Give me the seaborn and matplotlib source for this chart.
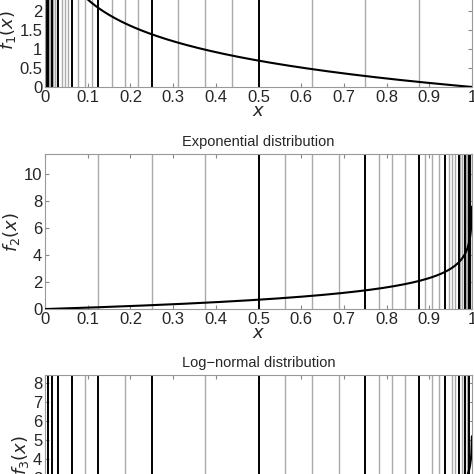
import numpy as np
import math
import matplotlib
matplotlib.use("Agg")
import matplotlib.pyplot as plt
import seaborn as sns

sns.set_style("ticks")
plt.rcParams['font.family'] = ['Liberation Sans', 'DejaVu Sans']

# vertical grid positions
p1_thick = [1/2**k for k in range(1, 9)]
p1_thin = [a*f for a in [1/2**k for k in range(1, 9)] for f in (1.25, 1.5, 1.75)]
p2_thick = [1 - v for v in p1_thick]
p2_thin = [1 - v for v in p1_thin]
p3_thick = [0.5, 0.25, 0.125, 0.0625, 0.03125, 0.015625, 0.0078125, 0.75, 0.875, 0.9375, 0.96875, 0.984375, 0.9921875]
p3_thin = [0.1875, 0.375, 0.09375, 0.5625, 0.625, 0.6875, 0.78125, 0.8125, 0.84375, 0.90625, 0.921875,
           0.953125, 0.9609375, 0.9765625, 0.98046875, 0.98828125]

x_curve = np.linspace(0.0005, 0.9995, 800)
f1 = -np.log(x_curve)
f2 = -np.log(1 - x_curve)

def ndtri(p):
    lo, hi = -10.0, 10.0
    for _ in range(60):
        m = (lo + hi) / 2
        if 0.5 * (1 + math.erf(m / math.sqrt(2))) < p:
            lo = m
        else:
            hi = m
    return (lo + hi) / 2
f3 = np.exp(0.5 * np.array([ndtri(p) for p in x_curve]))

titles = [None, "Exponential distribution", "Log\u2212normal distribution"]
ylabels = ["$f_1(x)$", "$f_2(x)$", "$f_3(x)$"]
ylims = [(0, 3), (0, 11.5), (0, 8.4)]
yticks = [[0, 0.5, 1, 1.5, 2, 2.5, 3], [0, 2, 4, 6, 8, 10], list(range(0, 9))]
ytl = [["0", "0.5", "1", "1.5", "2", "2.5", "3"], None, None]
curves = [f1, f2, f3]
thick = [p1_thick, p2_thick, p3_thick]
thin = [p1_thin, p2_thin, p3_thin]
rects = [[0.095, 0.8165, 0.901, 0.2405], [0.095, 0.348, 0.901, 0.327], [0.095, -0.1287, 0.901, 0.3376]]

fig = plt.figure(figsize=(4.74, 4.74), dpi=100)
for i in range(3):
    ax = fig.add_axes(rects[i])
    for v in thin[i]:
        ax.axvline(v, color="#aaaaaa", lw=1.0, zorder=1)
    for v in thick[i]:
        ax.axvline(v, color="black", lw=1.4, zorder=2)
    sns.lineplot(x=x_curve, y=curves[i], ax=ax, color="black", lw=1.5, zorder=3)
    ax.set_xlim(0, 1)
    ax.set_ylim(*ylims[i])
    ax.set_xticks(np.round(np.arange(0, 1.01, 0.1), 1))
    ax.set_xticklabels(["0"] + [f"{v:.1f}" for v in np.arange(0.1, 0.95, 0.1)] + ["1"])
    ax.set_yticks(yticks[i])
    if ytl[i]:
        ax.set_yticklabels(ytl[i])
    ax.tick_params(direction="in", length=3, labelsize=12, color="#888888", pad=2, top=True, right=True)
    for s in ax.spines.values():
        s.set_color("#999999")
    ax.set_xlabel("$x$", fontsize=13, labelpad=-1)
    ax.set_ylabel(ylabels[i], fontsize=13, labelpad=1)
    if titles[i]:
        ax.set_title(titles[i], fontsize=10.5, pad=6)

fig.savefig("out.png", dpi=100)
